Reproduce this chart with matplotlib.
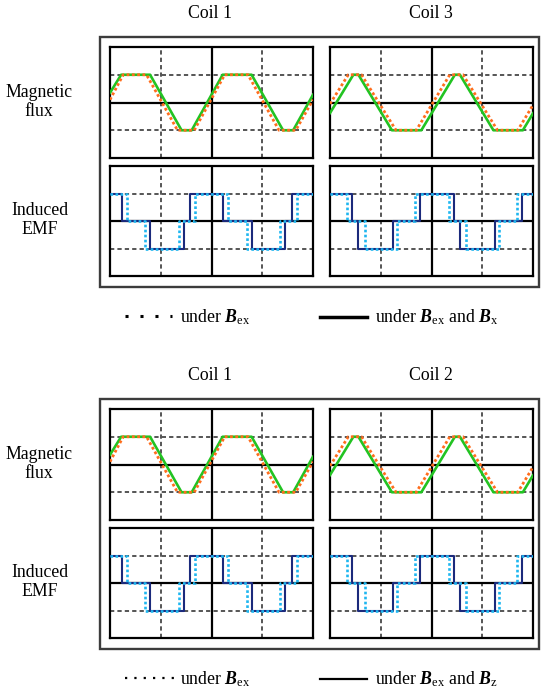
import matplotlib.pyplot as plt
from matplotlib.lines import Line2D
from matplotlib.patches import Rectangle

W, H = 550, 693

plt.rcParams['font.family'] = ['Liberation Serif', 'DejaVu Serif']
plt.rcParams['mathtext.fontset'] = 'custom'
plt.rcParams['mathtext.rm'] = 'Liberation Serif'
plt.rcParams['mathtext.it'] = 'Liberation Serif:italic'
plt.rcParams['mathtext.bf'] = 'Liberation Serif:bold:italic'

# magnetic flux, polyline vertices over two periods (x in grid squares, y in saturation units)
c1_flux_x = [0, 0.22, 0.79, 1.41, 1.61, 2.22, 2.79, 3.41, 3.61, 4.0]
c1_flux_y = [0.35, 1, 1, -1, -1, 1, 1, -1, -1, 0.28]
c1_ref_x = [0, 0.26, 0.72, 1.33, 1.66, 2.26, 2.72, 3.33, 3.66, 4.0]
c1_ref_y = [0.1, 1, 1, -1, -1, 1, 1, -1, -1, 0.1]
c3_flux_x = [0, 0.46, 0.56, 1.22, 1.80, 2.46, 2.56, 3.22, 3.80, 4.0]
c3_flux_y = [-0.38, 1, 1, -1, -1, 1, 1, -1, -1, -0.39]
c3_ref_x = [0, 0.36, 0.62, 1.30, 1.70, 2.36, 2.62, 3.30, 3.70, 4.0]
c3_ref_y = [-0.05, 1, 1, -1, -1, 1, 1, -1, -1, -0.09]

# induced EMF, switching times and the level held from each one on
emf_levels = [1, 0, -1, 0, 1, 0, -1, 0, 1, 1]
c1_emf_t = [0, 0.23, 0.79, 1.45, 1.57, 2.23, 2.79, 3.45, 3.58, 4.0]
c1_ref_emf_t = [0, 0.34, 0.68, 1.35, 1.67, 2.33, 2.69, 3.35, 3.68, 4.0]
c3_emf_t = [0, 0.44, 0.56, 1.25, 1.78, 2.44, 2.56, 3.25, 3.79, 4.0]
c3_ref_emf_t = [0, 0.33, 0.68, 1.33, 1.67, 2.35, 2.68, 3.33, 3.69, 4.0]

GREEN = '#22c322'
ORANGE = '#ff6d1c'
NAVY = '#1b2a7c'
SKY = '#1eb6f0'
GRID = '#555555'
FS = 12.8

fig = plt.figure(figsize=(W / 100, H / 100), dpi=100)


def px_axes(x0, y0, x1, y1, z=1):
    return fig.add_axes([x0 / W, 1 - y1 / H, (x1 - x0) / W, (y1 - y0) / H], zorder=z)


def scope(ax):
    ax.set_xlim(0, 4)
    ax.set_ylim(-2, 2)
    ax.set_xticks([])
    ax.set_yticks([])
    for s in ax.spines.values():
        s.set_linewidth(1.6)
    for x in (1, 3):
        ax.axvline(x, color=GRID, lw=1.4, ls=(0, (2.2, 1.6)), zorder=1)
    for y in (-1, 1):
        ax.axhline(y, color=GRID, lw=1.4, ls=(0, (2.2, 1.6)), zorder=1)
    ax.axvline(2, color='black', lw=1.6, zorder=1)
    ax.axhline(0, color='black', lw=1.6, zorder=1)


def fx(x):
    return x / W


def fy(y):
    return 1 - y / H


blocks = [
    dict(dy=0, right='Coil 3', data=(c3_flux_x, c3_flux_y, c3_ref_x, c3_ref_y, c3_emf_t, c3_ref_emf_t),
         field='x', dots=(0, (1, 3.9)), dot_lw=2.2, dot_end=172, solid_lw=2.5),
    dict(dy=362, right='Coil 2', data=(c3_flux_x, c3_flux_y, c3_ref_x, c3_ref_y, c3_emf_t, c3_ref_emf_t),
         field='z', dots=(0, (1, 3.2)), dot_lw=1.6, dot_end=179, solid_lw=1.6),
]

for b in blocks:
    dy = b['dy']
    # outer frame
    fig.add_artist(Rectangle((fx(100), fy(287 + dy)), fx(439), 250 / H, transform=fig.transFigure,
                             fill=False, ec='#3c3c3c', lw=1.7))
    fig.text(fx(210), fy(14 + dy), 'Coil 1', ha='center', va='center', fontsize=FS)
    fig.text(fx(431), fy(14 + dy), b['right'], ha='center', va='center', fontsize=FS)
    fig.text(fx(39), fy(102 + dy), 'Magnetic\nflux', ha='center', va='center', fontsize=FS)
    fig.text(fx(40), fy(220 + dy), 'Induced\nEMF', ha='center', va='center', fontsize=FS)

    sets = [(110, 313, (c1_flux_x, c1_flux_y, c1_ref_x, c1_ref_y, c1_emf_t, c1_ref_emf_t)),
            (330, 533, b['data'])]
    for x0, x1, (gx, gy, ox, oy, et, rt) in sets:
        ax = px_axes(x0, 47 + dy, x1, 158 + dy)
        scope(ax)
        ax.plot(gx, gy, color=GREEN, lw=1.9, zorder=3)
        ax.plot(ox, oy, color=ORANGE, lw=2.0, ls=(0, (1, 0.9)), zorder=4)

        ax = px_axes(x0, 166 + dy, x1, 276 + dy)
        scope(ax)
        ax.step(et, emf_levels, where='post', color=NAVY, lw=1.5, zorder=3)
        ax.step(rt, emf_levels, where='post', color=SKY, lw=1.9, ls=(0, (1, 0.9)), zorder=4)

    # legend row
    ly = 317 + dy
    fig.add_artist(Line2D([fx(125), fx(b['dot_end'])], [fy(ly - 1), fy(ly - 1)], color='black',
                          lw=b['dot_lw'], ls=b['dots']))
    fig.text(fx(180), fy(ly), r'under $\mathbf{B}_{\mathrm{ex}}$', ha='left', va='center', fontsize=FS)
    fig.add_artist(Line2D([fx(320), fx(367)], [fy(ly), fy(ly)], color='black', lw=b['solid_lw']))
    fig.text(fx(375), fy(ly),
             r'under $\mathbf{B}_{\mathrm{ex}}$ and $\mathbf{B}_{\mathrm{%s}}$' % b['field'],
             ha='left', va='center', fontsize=FS)

fig.savefig('out.png', dpi=100)
